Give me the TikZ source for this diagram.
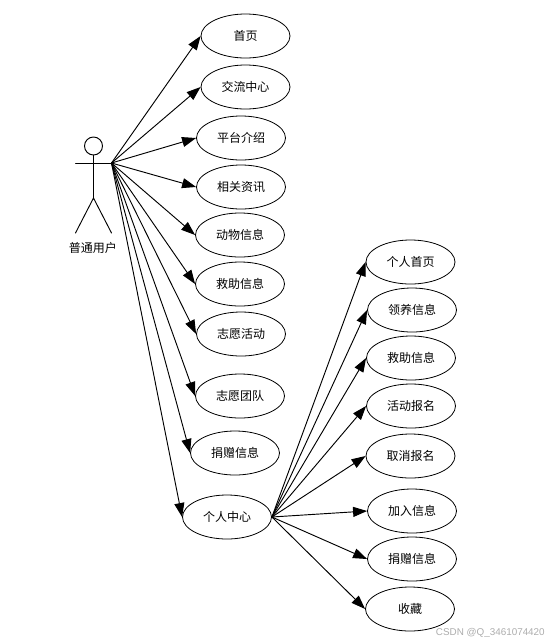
\documentclass[tikz,border=0pt]{standalone}
\usepackage{fontspec}
\setmainfont{Noto Sans CJK SC}
\newfontfamily\wmfont{Liberation Sans}
\usetikzlibrary{shapes.geometric,arrows.meta}
\tikzset{
  uc/.style={ellipse,draw=black,line width=0.6pt,minimum width=66.75pt,minimum height=33pt,inner sep=0pt,font=\fontsize{9pt}{10pt}\selectfont},
  arr/.style={-{Triangle[length=10.5pt,width=7.5pt]},draw=black,line width=0.7pt},
  lim/.style={draw=black,line width=0.7pt,line cap=round}
}
\begin{document}
\begin{tikzpicture}[x=0.75pt,y=-0.75pt]
\useasboundingbox (0,0) rectangle (548,644);
\fill[white] (0,0) rectangle (548,644);
% actor
\node[circle,draw=black,line width=0.7pt,minimum size=13.5pt,inner sep=0pt] (head) at (93.5,146) {};
\coordinate (hip) at (93.5,198);
\coordinate (armL) at (75.5,163);
\coordinate (armR) at (111.5,163);
\coordinate (legL) at (75.5,233);
\coordinate (legR) at (111.5,233);
\draw[lim] (head.south) -- (hip);
\draw[lim] (armL) -- (armR);
\draw[lim] (legL) -- (hip) -- (legR);
\node[font=\fontsize{9pt}{10pt}\selectfont,inner sep=0pt] (actorlabel) at (93,248) {普通用户};
% left use cases
\node[uc] (a1) at (245.5,36) {首页};
\node[uc] (a2) at (245.5,87) {交流中心};
\node[uc] (a3) at (241,138) {平台介绍};
\node[uc] (a4) at (241,187) {相关资讯};
\node[uc] (a5) at (240,235) {动物信息};
\node[uc] (a6) at (240,284) {救助信息};
\node[uc] (a7) at (241,334) {志愿活动};
\node[uc] (a8) at (240,396) {志愿团队};
\node[uc] (a9) at (235,453) {捐赠信息};
\node[uc] (a10) at (227,517) {个人中心};
% right use cases
\node[uc] (b1) at (410.5,262) {个人首页};
\node[uc] (b2) at (412,310) {领养信息};
\node[uc] (b3) at (411,358) {救助信息};
\node[uc] (b4) at (411,406) {活动报名};
\node[uc] (b5) at (410.5,456) {取消报名};
\node[uc] (b6) at (412,511) {加入信息};
\node[uc] (b7) at (412,559) {捐赠信息};
\node[uc] (b8) at (410,609) {收藏};
\foreach \n in {a1,a2,a3,a4,a5,a6,a7,a8,a9,a10}
  \draw[arr] (armR) -- (\n.west);
\foreach \n in {b1,b2,b3,b4,b5,b6,b7,b8}
  \draw[arr] (a10.east) -- (\n.west);
\node[anchor=east,font=\wmfont\fontsize{7.4pt}{9pt}\selectfont,text=black!32,inner sep=0pt] (wm) at (545,633) {CSDN @Q\_3461074420};
\end{tikzpicture}
\end{document}
